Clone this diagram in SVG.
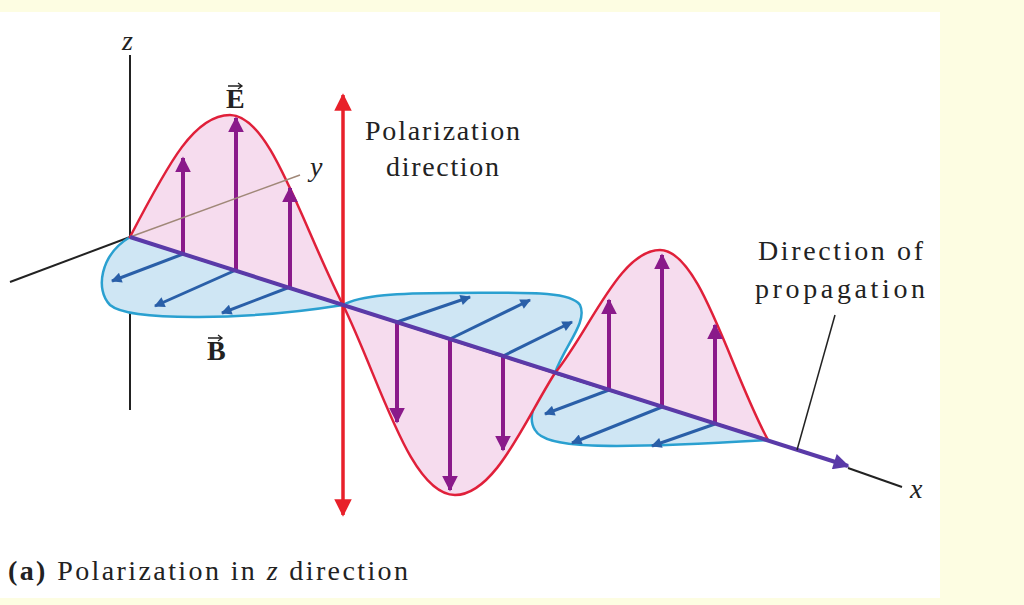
<svg xmlns="http://www.w3.org/2000/svg" width="1024" height="605" viewBox="0 0 1024 605">
<defs>
<style>
.lbl{font-family:"Liberation Serif",serif;font-size:28px;fill:#222}
.ef{fill:#f6dcee;stroke:#e0203a;stroke-width:2.5}
.bf{fill:#cfe6f4;stroke:#2aa0d0;stroke-width:2.5}
.ea{stroke:#8a1a8a;stroke-width:4;marker-end:url(#pa)}
.ba{stroke:#2a5fa8;stroke-width:3;marker-end:url(#ba)}
</style>
<marker id="pa" viewBox="0 0 10 10" refX="9" refY="5" markerWidth="4" markerHeight="5" orient="auto" markerUnits="strokeWidth"><path d="M0,0L10,5L0,10z" fill="#8a1a8a"/></marker>
<marker id="ba" viewBox="0 0 10 10" refX="9" refY="5" markerWidth="4" markerHeight="3.5" orient="auto" markerUnits="strokeWidth"><path d="M0,0L10,5L0,10z" fill="#2a5fa8"/></marker>
<marker id="ra" viewBox="0 0 10 10" refX="9" refY="5" markerWidth="5" markerHeight="5" orient="auto-start-reverse" markerUnits="strokeWidth"><path d="M0,0L10,5L0,10z" fill="#e8202a"/></marker>
<marker id="xa" viewBox="0 0 10 10" refX="9" refY="5" markerWidth="5" markerHeight="4" orient="auto" markerUnits="strokeWidth"><path d="M0,0L10,5L0,10z" fill="#5a3aa8"/></marker>
</defs>
<rect width="1024" height="605" fill="#fdfde2"/>
<rect x="0" y="12" width="940" height="586" fill="#ffffff"/>
<g id="axes-back" stroke="#222" stroke-width="2" fill="none">
<line x1="130" y1="55" x2="130" y2="410"/>
<line x1="10" y1="282" x2="130" y2="237"/>
</g>
<g id="bwave">
<path class="bf" d="M130,237 C100,255 95,290 110,305 C130,322 250,320 343,305 Z"/>
<path class="bf" d="M343,305 C360,295 400,293 450,293 C520,293 570,290 580,305 C588,322 565,345 555,373 Z"/>
<path class="bf" d="M555,373 C540,390 525,415 535,430 C545,448 600,450 768,440 Z"/>
<line class="ba" x1="183" y1="254" x2="112" y2="281"/>
<line class="ba" x1="236" y1="270" x2="155" y2="306"/>
<line class="ba" x1="290" y1="287" x2="222" y2="313"/>
<line class="ba" x1="397" y1="322" x2="470" y2="297"/>
<line class="ba" x1="450" y1="339" x2="530" y2="300"/>
<line class="ba" x1="503" y1="356" x2="572" y2="322"/>
<line class="ba" x1="609" y1="390" x2="545" y2="414"/>
<line class="ba" x1="662" y1="407" x2="572" y2="443"/>
<line class="ba" x1="715" y1="424" x2="652" y2="446"/>
</g>
<g id="ewave">
<path class="ef" d="M130,237 C170,160 195,115 230,115 C270,115 300,220 343,305 Z"/>
<path class="ef" d="M343,305 C380,380 410,495 455,495 C495,495 525,420 555,373 Z"/>
<path class="ef" d="M555,373 C590,330 620,250 660,250 C700,250 730,370 768,440 Z"/>
<line class="ea" x1="183" y1="254" x2="183" y2="158"/>
<line class="ea" x1="236" y1="270" x2="236" y2="118"/>
<line class="ea" x1="290" y1="287" x2="290" y2="188"/>
<line class="ea" x1="397" y1="322" x2="397" y2="422"/>
<line class="ea" x1="450" y1="339" x2="450" y2="490"/>
<line class="ea" x1="503" y1="356" x2="503" y2="450"/>
<line class="ea" x1="609" y1="390" x2="609" y2="300"/>
<line class="ea" x1="662" y1="407" x2="662" y2="255"/>
<line class="ea" x1="715" y1="424" x2="715" y2="325"/>
</g>
<g id="connectors">
<line x1="130" y1="237" x2="300" y2="175" stroke="#a08878" stroke-width="1.5"/>
<line x1="343" y1="95" x2="343" y2="515" stroke="#e8202a" stroke-width="3.5" marker-start="url(#ra)" marker-end="url(#ra)"/>
<line x1="130" y1="237" x2="848" y2="466" stroke="#5a3aa8" stroke-width="4" marker-end="url(#xa)"/>
<line x1="848" y1="468" x2="902" y2="487" stroke="#222" stroke-width="2"/>
<line x1="835" y1="315" x2="797" y2="450" stroke="#222" stroke-width="1.5"/>
</g>
<g id="labels">
<text class="lbl" x="122" y="50" font-style="italic">z</text>
<text class="lbl" x="310" y="176" font-style="italic">y</text>
<text class="lbl" x="910" y="498" font-style="italic">x</text>
<text class="lbl" x="226" y="108" font-weight="bold" font-size="22">E</text>
<path d="M228,86 h14 m-4,-3 l4,3 l-4,3" stroke="#222" fill="none" stroke-width="1.3"/>
<text class="lbl" x="207" y="360" font-weight="bold" font-size="22">B</text>
<path d="M208,338 h14 m-4,-3 l4,3 l-4,3" stroke="#222" fill="none" stroke-width="1.3"/>
<text class="lbl" x="365" y="140" textLength="155">Polarization</text>
<text class="lbl" x="386" y="176" textLength="113">direction</text>
<text class="lbl" x="758" y="260" textLength="165">Direction of</text>
<text class="lbl" x="755" y="298" textLength="170">propagation</text>
<text class="lbl" x="8" y="580" textLength="400"><tspan font-weight="bold">(a)</tspan> Polarization in <tspan font-style="italic">z</tspan> direction</text>
</g>
</svg>
